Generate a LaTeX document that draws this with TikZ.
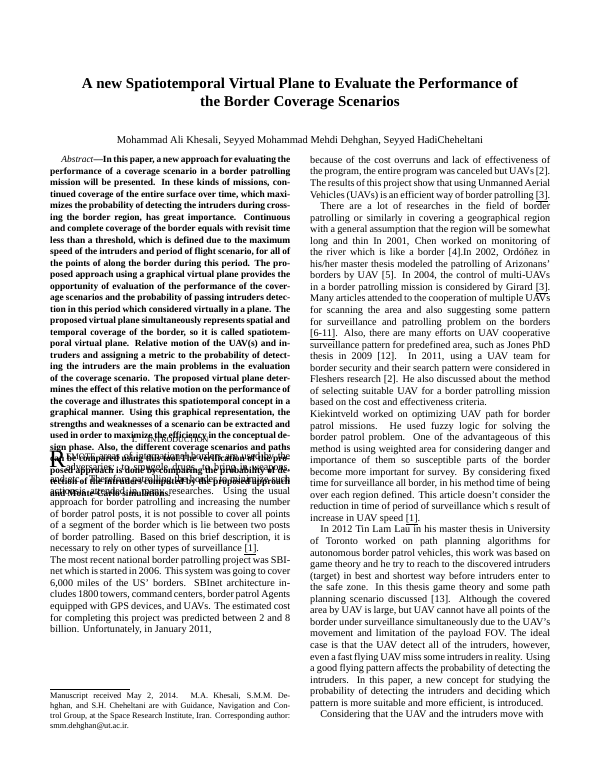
\documentclass[tikz,border=0pt]{standalone}
\usepackage{fontspec}
\setmainfont{Liberation Serif}
\newcommand\nohy{\hyphenpenalty=10000\exhyphenpenalty=10000\tolerance=9999\emergencystretch=20pt\relax}
\begin{document}
\begin{tikzpicture}[x=1pt,y=-1pt,
 col/.style={anchor=north west,inner sep=0pt,text width=240pt,align=justify,font=\fontsize{10.2}{11.55}\selectfont},
 hd/.style={anchor=north,inner sep=0pt,align=center}]
\fill[white] (0,0) rectangle (600,776);
\node[hd,font=\fontsize{15}{18}\selectfont\bfseries] (title) at (300,78) {A new Spatiotemporal Virtual Plane to Evaluate the Performance of\\the Border Coverage Scenarios};
\node[hd,font=\fontsize{10.5}{12}\selectfont] (auth) at (300,136) {Mohammad Ali Khesali, Seyyed Mohammad Mehdi Dehghan, Seyyed HadiCheheltani};
\node[col,font=\fontsize{9.4}{11.5}\selectfont\bfseries] (abs) at (50,156) {\nohy\hspace*{1.2em}\textit{\mdseries Abstract}---In this paper, a new approach for evaluating the performance of a coverage scenario in a border patrolling mission will be presented. In these kinds of missions, continued coverage of the entire surface over time, which maximizes the probability of detecting the intruders during crossing the border region, has great importance. Continuous and complete coverage of the border equals with revisit time less than a threshold, which is defined due to the maximum speed of the intruders and period of flight scenario, for all of the points of along the border during this period. The proposed approach using a graphical virtual plane provides the opportunity of evaluation of the performance of the coverage scenarios and the probability of passing intruders detection in this period which considered virtually in a plane. The proposed virtual plane simultaneously represents spatial and temporal coverage of the border, so it is called spatiotemporal virtual plane. Relative motion of the UAV(s) and intruders and assigning a metric to the probability of detecting the intruders are the main problems in the evaluation of the coverage scenario. The proposed virtual plane determines the effect of this relative motion on the performance of the coverage and illustrates this spatiotemporal concept in a graphical manner. Using this graphical representation, the strengths and weaknesses of a scenario can be extracted and used in order to maximize the efficiency in the conceptual design phase. Also, the different coverage scenarios and paths can be compared using this tool.The verification of the proposed approach is done by comparing the probability of detection of the intruders computed by the proposed approach and Monte-Carlo simulations.};
\node[hd,font=\fontsize{10}{12}\selectfont] (sec) at (170,436) {I.\quad I{\fontsize{8}{10}\selectfont NTRODUCTION}};
\node[anchor=north west,inner sep=0pt,font=\fontsize{25}{25}\selectfont] (drop) at (49,451) {R};
\node[col] (intro) at (50,452) {\nohy\hangindent=16pt\hangafter=-2{\fontsize{8.5}{10}\selectfont EMOTE} areas of international borders are used by the adversaries: to smuggle drugs, to bring in weapons, and etc.. Therefore patrolling the border to minimize such actionsis attended in many researches. Using the usual approach for border patrolling and increasing the number of border patrol posts, it is not possible to cover all points of a segment of the border which is lie between two posts of border patrolling. Based on this brief description, it is necessary to rely on other types of surveillance \underline{[1]}.\par
The most recent national border patrolling project was SBInet which is started in 2006. This system was going to cover 6,000 miles of the US' borders. SBInet architecture includes 1800 towers, command centers, border patrol Agents equipped with GPS devices, and UAVs. The estimated cost for completing this project was predicted between 2 and 8 billion. Unfortunately, in January 2011,};
\draw[line width=0.4pt] (50,689) -- (130,689);
\node[col,font=\fontsize{8.3}{9.8}\selectfont] (foot) at (50,693) {\nohy Manuscript received May 2, 2014. M.A. Khesali, S.M.M. Dehghan, and S.H. Cheheltani are with Guidance, Navigation and Control Group, at the Space Research Institute, Iran. Corresponding author: smm.dehghan@ut.ac.ir.};
\node[col] (right) at (310,156) {\nohy because of the cost overruns and lack of effectiveness of the program, the entire program was canceled but UAVs [2]. The results of this project show that using Unmanned Aerial Vehicles (UAVs) is an efficient way of border patrolling \underline{[3]}.\par
\hspace*{1em}There are a lot of researches in the field of border patrolling or similarly in covering a geographical region with a general assumption that the region will be somewhat long and thin In 2001, Chen worked on monitoring of the river which is like a border [4].In 2002, Ordóñez in his/her master thesis modeled the patrolling of Arizonans' borders by UAV [5]. In 2004, the control of multi-UAVs in a border patrolling mission is considered by Girard \underline{[3]}. Many articles attended to the cooperation of multiple UAVs for scanning the area and also suggesting some pattern for surveillance and patrolling problem on the borders \underline{[6-11]}. Also, there are many efforts on UAV cooperative surveillance pattern for predefined area, such as Jones PhD thesis in 2009 [12]. In 2011, using a UAV team for border security and their search pattern were considered in Fleshers research [2]. He also discussed about the method of selecting suitable UAV for a border patrolling mission based on the cost and effectiveness criteria.\par
Kiekintveld worked on optimizing UAV path for border patrol missions. He used fuzzy logic for solving the border patrol problem. One of the advantageous of this method is using weighted area for considering danger and importance of them so susceptible parts of the border become more important for survey. By considering fixed time for surveillance all border, in his method time of being over each region defined. This article doesn't consider the reduction in time of period of surveillance which s result of increase in UAV speed \underline{[1]}.\par
\hspace*{1em}In 2012 Tin Lam Lau in his master thesis in University of Toronto worked on path planning algorithms for autonomous border patrol vehicles, this work was based on game theory and he try to reach to the discovered intruders (target) in best and shortest way before intruders enter to the safe zone. In this thesis game theory and some path planning scenario discussed [13]. Although the covered area by UAV is large, but UAV cannot have all points of the border under surveillance simultaneously due to the UAV's movement and limitation of the payload FOV. The ideal case is that the UAV detect all of the intruders, however, even a fast flying UAV miss some intruders in reality. Using a good flying pattern affects the probability of detecting the intruders. In this paper, a new concept for studying the probability of detecting the intruders and deciding which pattern is more suitable and more efficient, is introduced.\par
\hspace*{1em}Considering that the UAV and the intruders move with};
\end{tikzpicture}
\end{document}
